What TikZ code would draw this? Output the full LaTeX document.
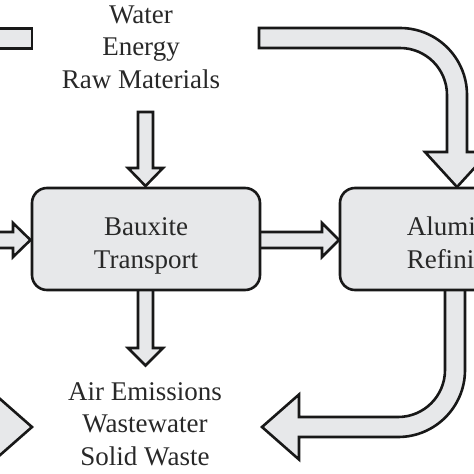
\documentclass[tikz,border=0pt]{standalone}
\usepackage{fontspec}
\setmainfont{Liberation Serif}
\definecolor{boxfill}{RGB}{231,232,234}
\definecolor{edge}{RGB}{24,24,24}
\definecolor{ink}{RGB}{40,40,40}
\begin{document}
\begin{tikzpicture}[x=1pt,y=-1pt,
  fat/.style={draw=edge, fill=boxfill, line width=2.6pt, line join=miter},
  proc/.style={draw=edge, fill=boxfill, line width=2.6pt, rounded corners=15pt, inner sep=0pt},
  lbl/.style={font=\fontsize{27}{32.5}\selectfont, text=ink, anchor=base, inner sep=0pt}]
\useasboundingbox (0,0) rectangle (474,474);
\clip (0,0) rectangle (474,474);

% block arrows (drawn first, boxes cover their roots)
% top-left shaft end
\draw[fat] (-10,28.5) rectangle (32,48.5);
% inputs down into Bauxite Transport
\draw[fat] (138,112) -- (153,112) -- (153,168) -- (163,168) -- (145.5,186) -- (128,168) -- (138,168) -- cycle;
% left input arrow
\draw[fat] (-10,232) -- (13,232) -- (13,223) -- (30.5,240) -- (13,257) -- (13,248) -- (-10,248) -- cycle;
% Bauxite -> Alumina
\draw[fat] (258,232) -- (322,232) -- (322,223) -- (339,240) -- (322,257) -- (322,248) -- (258,248) -- cycle;
% outputs down from Bauxite Transport
\draw[fat] (138,288) -- (153,288) -- (153,348) -- (163,348) -- (145.5,365.5) -- (128,348) -- (138,348) -- cycle;
% top curved arrow into Alumina Refining
\draw[fat] (259,28) -- (400,28) arc[start angle=270, end angle=360, radius=67]
  -- (467,152) -- (489,152) -- (457,187) -- (425,152) -- (447,152) -- (447,95)
  arc[start angle=360, end angle=270, radius=47] -- (259,48) -- cycle;
% bottom curved arrow out of Alumina Refining
\draw[fat] (445,288) -- (445,370) arc[start angle=0, end angle=90, radius=47]
  -- (299,417) -- (299,394.5) -- (262,427) -- (299,459.5) -- (299,437) -- (398,437)
  arc[start angle=90, end angle=0, radius=67] -- (465,288) -- cycle;
% bottom-left arrow head
\draw[fat] (-5,394.5) -- (32,427) -- (-5,459.5) -- (-5,437) -- (-20,437) -- (-20,417) -- (-5,417) -- cycle;

% process boxes
\node[proc, minimum width=228pt, minimum height=102pt] (baux) at (146,239) {};
\node[proc, minimum width=227pt, minimum height=102pt] (alum) at (453.5,239) {};

% texts
\node[lbl] (water) at (141,23) {Water};
\node[lbl] (energy) at (141,55.5) {Energy};
\node[lbl] (raw) at (141,88) {Raw Materials};
\node[lbl] (bx1) at (146,235.5) {Bauxite};
\node[lbl] (bx2) at (146,268) {Transport};
\node[lbl] (al1) at (454,235.5) {Alumina};
\node[lbl] (al2) at (454,268) {Refining};
\node[lbl] (air) at (145,400) {Air Emissions};
\node[lbl] (ww) at (145,432.5) {Wastewater};
\node[lbl] (sw) at (145,465) {Solid Waste};
\end{tikzpicture}
\end{document}
